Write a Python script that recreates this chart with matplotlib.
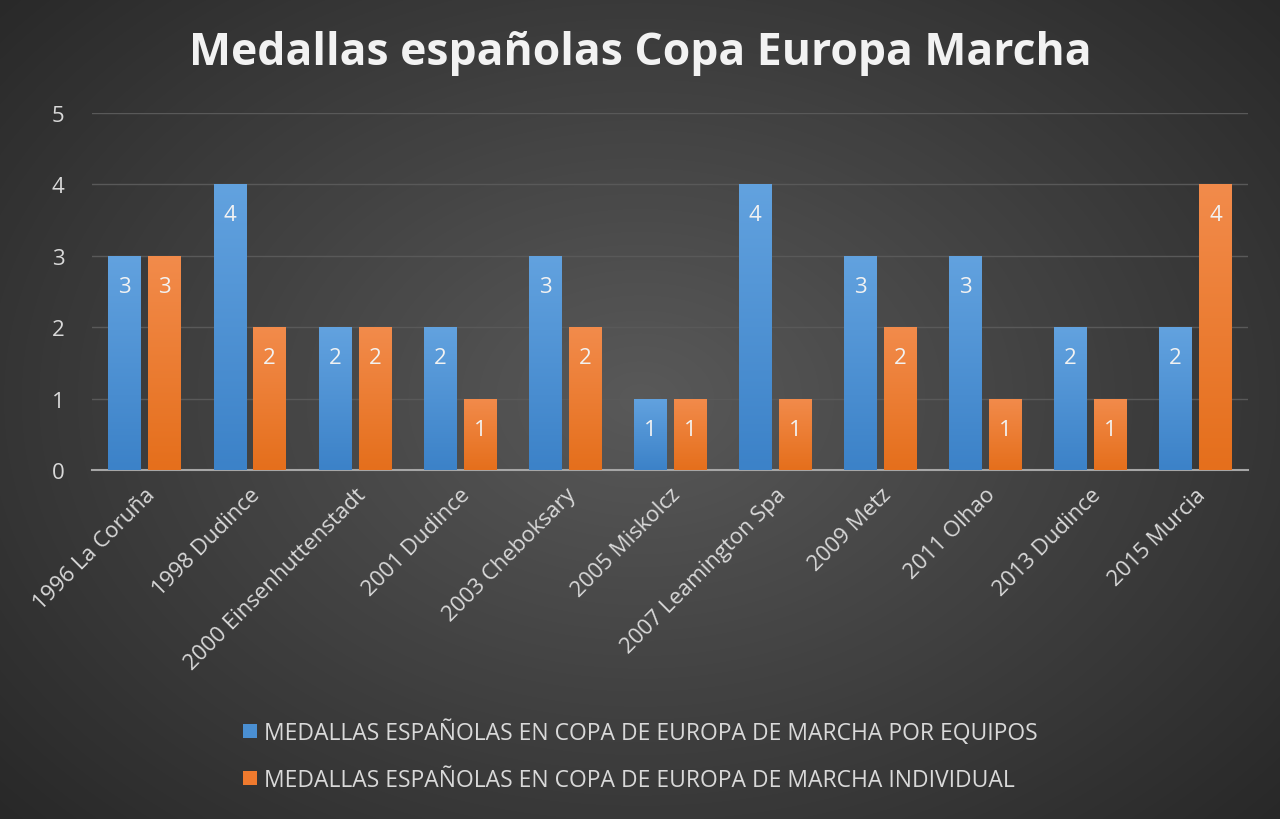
import numpy as np
import matplotlib.pyplot as plt
from matplotlib.colors import LinearSegmentedColormap

# ========== data ==========
sedes = ['1996 La Coruña', '1998 Dudince', '2000 Einsenhuttenstadt', '2001 Dudince',
         '2003 Cheboksary', '2005 Miskolcz', '2007 Leamington Spa', '2009 Metz',
         '2011 Olhao', '2013 Dudince', '2015 Murcia']
equipos = [3, 4, 2, 2, 3, 1, 4, 3, 3, 2, 2]
individual = [3, 2, 2, 1, 2, 1, 1, 2, 1, 1, 4]

label_equipos = 'MEDALLAS ESPAÑOLAS EN COPA DE EUROPA DE MARCHA POR EQUIPOS'
label_indiv = 'MEDALLAS ESPAÑOLAS EN COPA DE EUROPA DE MARCHA INDIVIDUAL'

plt.rcParams['font.family'] = ['Open Sans', 'DejaVu Sans']
txt = '#d9d9d9'

fig = plt.figure(figsize=(12.8, 8.2), dpi=100)

# radial background
bg = fig.add_axes([0, 0, 1, 1], zorder=-10)
yy, xx = np.mgrid[0:820, 0:1280]
r = np.sqrt(((xx - 640) / 900.0) ** 2 + ((yy - 400) / 650.0) ** 2)
bg_cmap = LinearSegmentedColormap.from_list('bg', ['#595959', '#262626'])
bg.imshow(r, cmap=bg_cmap, vmin=0, vmax=1.0, aspect='auto')
bg.axis('off')

ax = fig.add_axes([0.072, 0.4256, 0.903, 0.4354])
ax.patch.set_alpha(0)

x = np.arange(len(sedes))
w = 0.31
b1 = ax.bar(x - 0.19, equipos, w, color='#4a8fd2', zorder=2)
b2 = ax.bar(x + 0.19, individual, w, color='#ef7a2e', zorder=2)

# vertical gradients on the bars
def shade(bars, top, bottom):
    cm = LinearSegmentedColormap.from_list('g', [bottom, top])
    grad = np.linspace(0, 1, 100).reshape(-1, 1)
    for b in bars:
        x0 = b.get_x()
        im = ax.imshow(grad, cmap=cm, origin='lower', aspect='auto',
                       extent=[x0, x0 + b.get_width(), 0, b.get_height()], zorder=3)
        im.set_clip_path(b)

shade(b1, '#62a2df', '#3c82c8')
shade(b2, '#f28b4b', '#e56f1c')

for bars, vals in [(b1, equipos), (b2, individual)]:
    for b, v in zip(bars, vals):
        ax.annotate(str(v), (b.get_x() + b.get_width() / 2, v), xytext=(0, -22),
                    textcoords='offset points', ha='center', va='center',
                    color='#f2f2f2', fontsize=16, zorder=4)

ax.set_xlim(-0.5, len(sedes) - 0.5)
ax.set_ylim(0, 5)
ax.set_yticks(range(6))
ax.yaxis.grid(True, color='#595959', linewidth=1, zorder=0)
ax.set_axisbelow(True)
for s in ['top', 'right', 'left']:
    ax.spines[s].set_visible(False)
ax.spines['bottom'].set_color('#a6a6a6')
ax.spines['bottom'].set_linewidth(1.5)
ax.tick_params(axis='both', length=0, colors=txt, labelsize=16)
ax.tick_params(axis='y', pad=20)
ax.set_xticks(x)
ax.set_xticklabels(sedes, rotation=45, ha='right', rotation_mode='anchor')
ax.tick_params(axis='x', pad=10)

fig.text(0.5, 0.935, 'Medallas españolas Copa Europa Marcha', ha='center', va='center',
         color='#f2f2f2', fontsize=32, fontweight='bold')

leg = fig.legend([b1, b2], [label_equipos, label_indiv], loc='center',
                 bbox_to_anchor=(0.5, 0.077), ncol=1, frameon=False, fontsize=16.5,
                 handlelength=0.6, handleheight=0.6, handletextpad=0.3,
                 labelspacing=1.0, labelcolor=txt)

fig.savefig('out.png', dpi=100)
